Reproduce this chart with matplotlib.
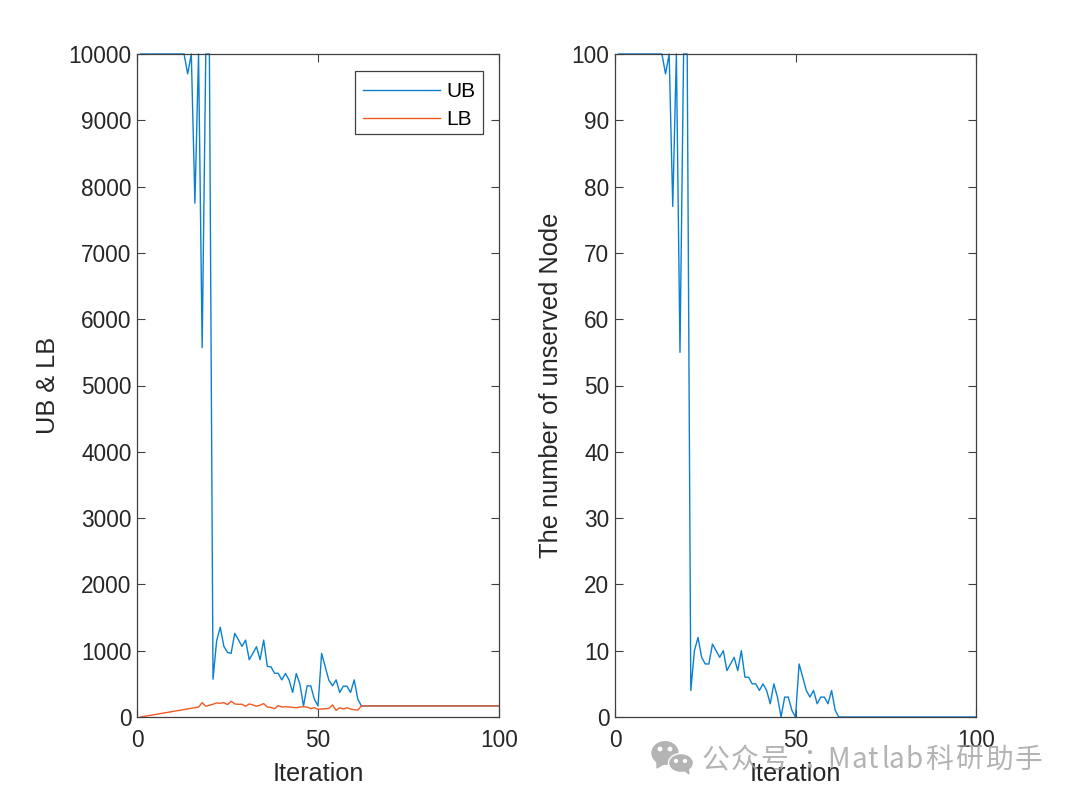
import matplotlib
matplotlib.use("Agg")
import matplotlib.pyplot as plt
from matplotlib.patches import Ellipse, Polygon, Rectangle

plt.rcParams["font.family"] = ["Liberation Sans", "DejaVu Sans"]

# data
iteration = list(range(1, 101))
ub = [10000] * 13 + [9700, 10000, 7750, 10000, 5570, 10000, 10000,
      570, 1150, 1353, 1065, 975, 960, 1262, 1167, 1065, 1160,
      864, 960, 1060, 864, 1160, 763, 757, 660, 660, 560,
      656, 560, 370, 656, 495, 167, 470, 470, 268, 167,
      960, 757, 555, 470, 560, 370, 465, 465, 370, 560,
      268] + [167] * 39

lb_iter = [1, 17] + list(range(18, 63)) + [100]
lb = [0, 150,
      217, 162, 177, 192, 212, 207, 217, 187, 237,
      197, 192, 192, 162, 197, 182, 162, 177, 202,
      150, 145, 125, 172, 150, 155, 150, 145, 140, 150,
      155, 150, 125, 140, 115, 120, 125, 130, 182, 100,
      140, 120, 140, 120, 110, 105, 167, 167]

unserved = [100] * 13 + [97, 100, 77, 100, 55, 100, 100,
            4, 10, 12, 9, 8, 8, 11, 10, 9, 10,
            7, 8, 9, 7, 10, 6, 6, 5, 5, 4,
            5, 4, 2, 5, 3, 0, 3, 3, 1, 0,
            8, 6, 4, 3, 4, 2, 3, 3, 2, 4,
            1] + [0] * 39

# watermark characters, drawn one by one because of the wide letter spacing
wm_chars = ["公", "众", "号", "：", "M", "a", "t", "l", "a", "b", "科", "研", "助", "手"]
wm_x = [702, 731, 760, 802, 827, 851, 867, 881, 888, 905, 925, 955, 985, 1015]

blue = "#0A80D0"
orange = "#F05A22"
dark = "#404040"
textc = "#262626"

fig = plt.figure(figsize=(10.8, 8.02), dpi=100)
W, H = 1080, 802


def make_axes(x0, x1, ymax, yticks):
    ax = fig.add_axes([x0 / W, 1 - 717 / H, (x1 - x0) / W, 663 / H])
    ax.set_xlim(0, 100)
    ax.set_ylim(0, ymax)
    ax.set_xticks([0, 50, 100])
    ax.set_yticks(yticks)
    ax.tick_params(direction="in", top=True, right=True, length=6, width=0.8,
                   color=dark, labelcolor=textc, labelsize=16.3, pad=4)
    ax.tick_params(axis="x", pad=8.5)
    for s in ax.spines.values():
        s.set_linewidth(0.9)
        s.set_color(dark)
    ax.set_xlabel("Iteration", fontsize=18.2, color=textc, labelpad=7.5)
    return ax


ax1 = make_axes(137, 499, 10000, list(range(0, 10001, 1000)))
ax1.plot(iteration, ub, color=blue, lw=1.0, label="UB", clip_on=False)
ax1.plot(lb_iter, lb, color=orange, lw=1.0, label="LB")
ax1.set_ylabel("UB & LB", fontsize=18.3, color=textc, labelpad=6)
leg = ax1.legend(loc="upper right", bbox_to_anchor=(347 / 362, 643 / 663),
                 borderaxespad=0, frameon=False,
                 fontsize=15, handlelength=3.7, handletextpad=0.3,
                 labelspacing=0.42, borderpad=0.4)

ax2 = make_axes(615, 976, 100, list(range(0, 101, 10)))
ax2.plot(iteration, unserved, color=blue, lw=1.0, clip_on=False)
ax2.set_ylabel("The number of unserved Node", fontsize=18.3, color=textc, labelpad=6.5)

# overlay in pixel coordinates: legend box and watermark
wm = fig.add_axes([0, 0, 1, 1], zorder=10)
wm.set_xlim(0, W)
wm.set_ylim(H, 0)
wm.axis("off")
wm.patch.set_alpha(0)
wm.add_patch(Rectangle((355, 71), 128, 63, fill=False, ec=dark, lw=0.9))

grey = "#B4B4B4"
wm.add_patch(Ellipse((665, 753), 26, 22.5, color=grey))
wm.add_patch(Polygon([[657, 761], [657, 768], [665, 763]], color=grey))
wm.add_patch(Ellipse((681, 763), 25, 19, facecolor=grey, edgecolor="white", lw=1))
wm.add_patch(Polygon([[684, 770], [689, 774], [688, 768]], color=grey))
for ex, ey, er in [(660, 749, 3.4), (670, 749, 3.4), (676, 761, 2.8), (685, 761, 2.8)]:
    wm.add_patch(Ellipse((ex, ey), er, er, color="white"))
for ch, x in zip(wm_chars, wm_x):
    wm.text(x, 768, ch, fontsize=20, color="#9A9A9A", alpha=0.75, va="baseline", ha="left",
            family=["Noto Sans CJK SC", "DejaVu Sans"])

fig.savefig("out.png", dpi=100)
